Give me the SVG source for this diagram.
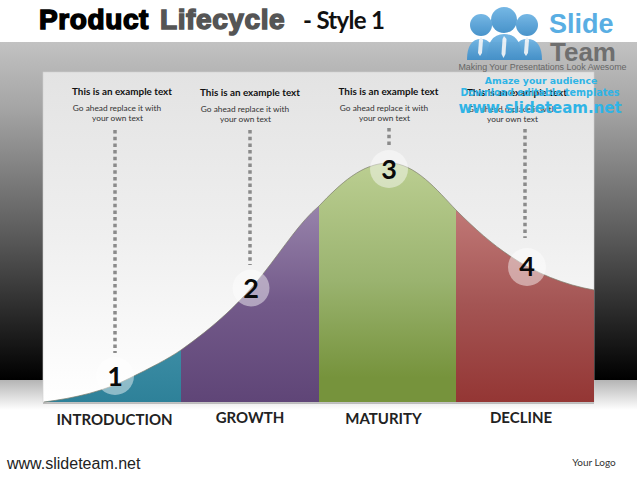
<svg xmlns="http://www.w3.org/2000/svg" width="638" height="478" viewBox="0 0 638 478">
<style>
.h{font:bold 9.900px Lato,"Liberation Sans",sans-serif;fill:#111;text-anchor:middle}
.b{font:8.300px Lato,"Liberation Sans",sans-serif;fill:#333;text-anchor:middle}
.n{font:bold 27px Lato,"Liberation Sans",sans-serif;fill:#0a0a0a;text-anchor:middle}
.s{font:bold 15px Lato,"Liberation Sans",sans-serif;fill:#222;text-anchor:middle}
.d{stroke:#8a8a8a;stroke-width:3.5;stroke-dasharray:3.5 3.2;fill:none}
.c{fill:#fff;fill-opacity:.45}
.w{font-family:"DejaVu Sans",sans-serif;font-weight:bold;fill:#2fb4e6;text-anchor:middle}
.p{fill:url(#pb)}
.t{fill:#e8f0f6}
</style>
<defs>
<linearGradient id="bg" x1="0" y1="0" x2="0" y2="1"><stop offset="0" stop-color="#c2c2c2"/><stop offset=".2" stop-color="#a4a4a4"/><stop offset=".6" stop-color="#555"/><stop offset="1" stop-color="#000"/></linearGradient>
<linearGradient id="ref" x1="0" y1="0" x2="0" y2="1"><stop offset="0" stop-color="#b4b4b4"/><stop offset="1" stop-color="#fff"/></linearGradient>
<linearGradient id="panel" x1="0" y1="0" x2="0" y2="1"><stop offset="0" stop-color="#e3e3e3"/><stop offset=".5" stop-color="#efefef"/><stop offset="1" stop-color="#fff"/></linearGradient>
<linearGradient id="teal" gradientUnits="userSpaceOnUse" x1="0" y1="160" x2="0" y2="402"><stop offset="0" stop-color="#8fc4d4"/><stop offset=".8" stop-color="#3a8ba3"/><stop offset="1" stop-color="#2e8199"/></linearGradient>
<linearGradient id="pur" gradientUnits="userSpaceOnUse" x1="0" y1="200" x2="0" y2="402"><stop offset="0" stop-color="#9a86ad"/><stop offset=".5" stop-color="#735a8a"/><stop offset="1" stop-color="#5f4577"/></linearGradient>
<linearGradient id="gre" gradientUnits="userSpaceOnUse" x1="0" y1="160" x2="0" y2="402"><stop offset="0" stop-color="#bccf92"/><stop offset=".5" stop-color="#9ab36f"/><stop offset=".9" stop-color="#76933c"/><stop offset="1" stop-color="#76933c"/></linearGradient>
<linearGradient id="red" gradientUnits="userSpaceOnUse" x1="0" y1="205" x2="0" y2="402"><stop offset="0" stop-color="#c27a78"/><stop offset=".5" stop-color="#a45554"/><stop offset="1" stop-color="#943634"/></linearGradient>
<linearGradient id="pb" x1="0" y1="0" x2="0" y2="1"><stop offset="0" stop-color="#6fb4e4"/><stop offset="1" stop-color="#3f8ec8"/></linearGradient>
<clipPath id="curve"><path d="M44 402C75 398 105 391 130 378C150 368 168 359 181 350C215 326 240 303 263 274C285 246 300 222 319 206C340 184 362 163 389 163C415 163 437 190 456 210C475 229 492 244 510 256C535 273 565 285 594 290V402Z"/></clipPath>
</defs>
<rect width="638" height="478" fill="#fff"/>
<rect id="backdrop" x="0" y="42" width="637" height="338" fill="url(#bg)"/>
<rect id="reflection" x="0" y="380" width="637" height="30" fill="url(#ref)"/>
<rect id="panel-shadow" x="43" y="402" width="551" height="2" fill="#999" fill-opacity=".6"/>
<rect id="panel-box" x="43" y="72" width="551" height="330" fill="url(#panel)" stroke="#d0d0d0" stroke-width=".6"/>

<g id="title">
<text x="39" y="29" font-family="Liberation Sans,Arial,sans-serif" font-weight="bold" font-size="28" letter-spacing=".6" fill="#000" stroke="#000" stroke-width="1.500">Product</text>
<text x="160" y="29" font-family="Liberation Sans,Arial,sans-serif" font-weight="bold" font-size="28" letter-spacing=".6" fill="#555" stroke="#555" stroke-width="1.500">Lifecycle</text>
<text x="303" y="29" font-family="Lato,Liberation Sans,sans-serif" font-weight="bold" font-size="24" fill="#111" letter-spacing="-.7">- Style 1</text>
</g>

<g id="bands" clip-path="url(#curve)">
<rect x="44" y="160" width="137" height="242" fill="url(#teal)"/>
<rect x="181" y="160" width="138" height="242" fill="url(#pur)"/>
<rect x="319" y="160" width="137" height="242" fill="url(#gre)"/>
<rect x="456" y="160" width="138" height="242" fill="url(#red)"/>
</g>
<path id="curve-line" d="M44 402C75 398 105 391 130 378C150 368 168 359 181 350C215 326 240 303 263 274C285 246 300 222 319 206C340 184 362 163 389 163C415 163 437 190 456 210C475 229 492 244 510 256C535 273 565 285 594 290" fill="none" stroke="#7d7d6c" stroke-width=".7"/>

<g id="connectors">
<path class="d" d="M115 130V353"/>
<path class="d" d="M250 130V265"/>
<path class="d" d="M389 128V145"/>
<path class="d" d="M525 129V238"/>
</g>

<g id="node-1"><circle class="c" cx="115" cy="376" r="19"/><text class="n" x="115" y="386">1</text>
<text class="h" x="122" y="95">This is an example text</text><text class="b" x="117" y="110.500">Go ahead replace it with</text><text class="b" x="117.500" y="121">your own text</text>
<text class="s" x="114.500" y="425">INTRODUCTION</text></g>
<g id="node-2"><circle class="c" cx="251" cy="288" r="18.500"/><text class="n" x="251" y="298">2</text>
<text class="h" x="250" y="96">This is an example text</text><text class="b" x="245" y="111.500">Go ahead replace it with</text><text class="b" x="245.500" y="122">your own text</text>
<text class="s" x="250" y="423">GROWTH</text></g>
<g id="node-3"><circle class="c" cx="389" cy="169" r="19"/><text class="n" x="389" y="179">3</text>
<text class="h" x="388.500" y="95">This is an example text</text><text class="b" x="384" y="110.500">Go ahead replace it with</text><text class="b" x="384.500" y="121">your own text</text>
<text class="s" x="383.500" y="424">MATURITY</text></g>
<g id="node-4"><circle class="c" cx="527" cy="267" r="19"/><text class="n" x="527" y="276">4</text>
<text class="h" x="517" y="96">This is an example text</text><text class="b" x="512" y="111.500">Go ahead replace it with</text><text class="b" x="512.500" y="122">your own text</text>
<text class="s" x="521" y="423">DECLINE</text></g>

<g id="footer">
<text x="7" y="469" font-family="Liberation Sans,Arial,sans-serif" font-size="16" fill="#222">www.slideteam.net</text>
<text x="594" y="466" font-family="Lato,Liberation Sans,sans-serif" font-size="10" fill="#333" text-anchor="middle">Your Logo</text>
</g>

<g id="watermark">
<g opacity=".95">
<circle class="p" cx="481" cy="25" r="11"/><path class="p" d="M467 60Q467 39 481 39Q494 39 494 60Z"/>
<circle class="p" cx="527" cy="25" r="11"/><path class="p" d="M513 60Q513 39 527 39Q542 39 542 60Z"/>
<circle class="p" cx="504" cy="20" r="13"/><path class="p" d="M487 60Q487 34 504 34Q522 34 522 60Z"/>
<path class="t" d="M481 37l2 3l-1 13l-2 3l-2-3l1-13Z"/><path class="t" d="M527 37l2 3l-1 13l-2 3l-2-3l1-13Z"/><path class="t" d="M504 36l2.500 3l-1 15l-2 4l-2-4l1-15Z"/>
</g>
<text x="549" y="33" font-family="Liberation Sans,Arial,sans-serif" font-weight="bold" font-size="27" fill="#59aee3">Slide</text>
<text x="550" y="61" font-family="Liberation Sans,Arial,sans-serif" font-weight="bold" font-size="26" fill="#6f6f6f">Team</text>
<text x="542.500" y="70" font-family="Liberation Sans,Arial,sans-serif" font-size="8.900" fill="#666" text-anchor="middle">Making Your Presentations Look Awesome</text>
<text class="w" x="541" y="83.500" font-size="9.300">Amaze your audience</text>
<text class="w" x="540" y="96" font-size="9.600">Download editable templates</text>
<text class="w" x="540" y="112.500" font-size="15">www.slideteam.net</text>
</g>
</svg>
